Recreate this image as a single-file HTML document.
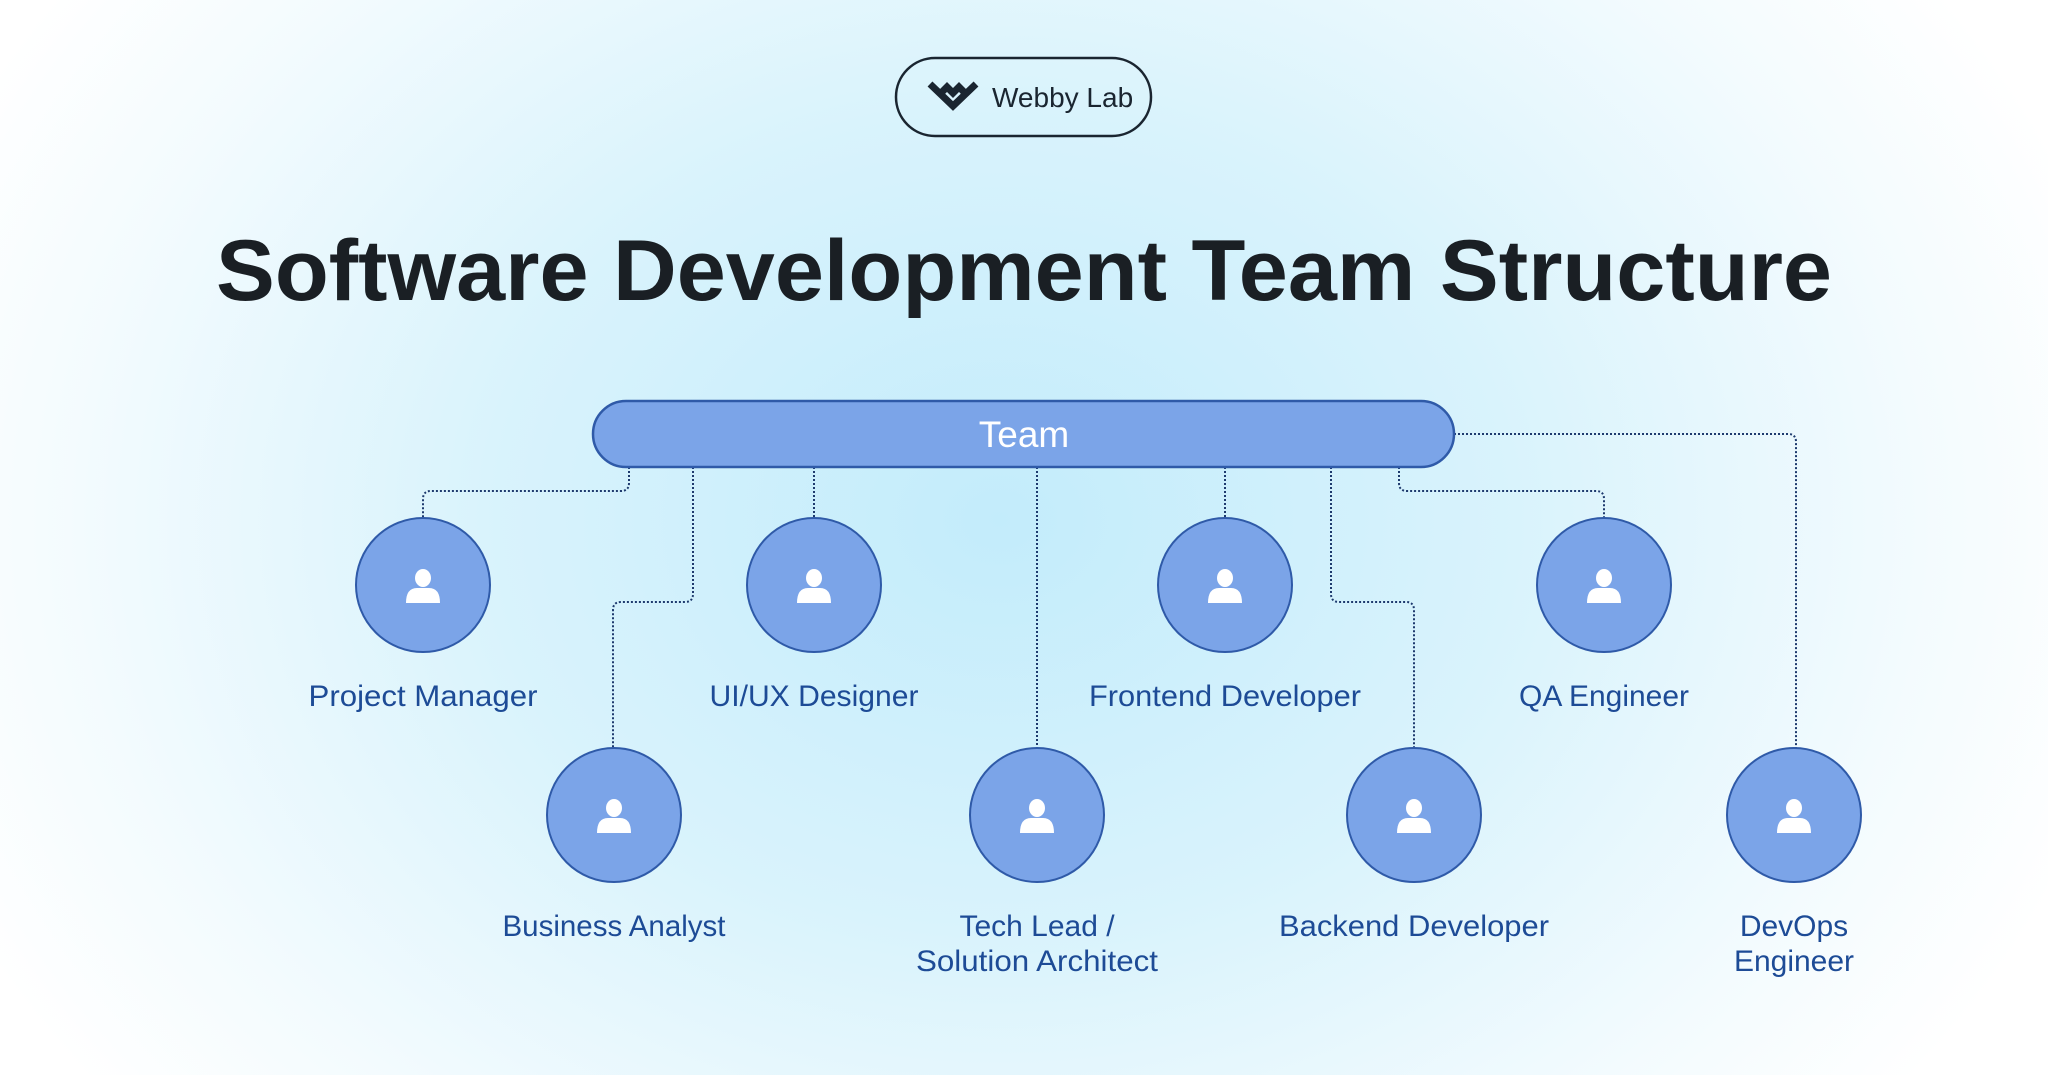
<!DOCTYPE html>
<html><head><meta charset="utf-8"><style>
html,body{margin:0;padding:0}
body{width:2048px;height:1075px;overflow:hidden;background:#fff}
svg{display:block}
</style></head><body>
<svg width="2048" height="1075" viewBox="0 0 2048 1075" xmlns="http://www.w3.org/2000/svg">
<defs>
<radialGradient id="bg" cx="1000" cy="520" r="1150" gradientUnits="userSpaceOnUse" gradientTransform="translate(1000 520) scale(1 0.8) translate(-1000 -520)">
<stop offset="0" stop-color="#c3ecfb"/>
<stop offset="0.45" stop-color="#d9f3fc"/>
<stop offset="0.8" stop-color="#f3fbfe"/>
<stop offset="1" stop-color="#ffffff"/>
</radialGradient>
<g id="p">
<circle r="67" fill="#7ba4e8" stroke="#2f5aa8" stroke-width="2"/>
<ellipse cx="0" cy="-7" rx="8" ry="9" fill="#fff"/>
<path d="M-17 18 Q-17 3 -6 3 L6 3 Q17 3 17 18 Z" fill="#fff"/>
</g>
</defs>
<rect width="2048" height="1075" fill="url(#bg)"/>

<rect x="896" y="58" width="255" height="78" rx="39" fill="none" stroke="#1a2530" stroke-width="2.5"/>
<g fill="none" stroke="#1a2530" stroke-width="7" stroke-linejoin="miter">
<polyline points="930,84 953,106 976,84"/>
<polyline points="941,93 947,87 953,93 959,87 965,93"/>
</g>
<text x="992" y="107" font-family="Liberation Sans, sans-serif" font-size="28" fill="#1a2530">Webby Lab</text>

<text x="1024" y="300" text-anchor="middle" font-family="Liberation Sans, sans-serif" font-weight="bold" font-size="86" fill="#1a1f24" textLength="1616" lengthAdjust="spacingAndGlyphs">Software Development Team Structure</text>

<g fill="none" stroke="#1e3a6e" stroke-width="2" stroke-dasharray="2 2">
<path d="M629 467 V483 Q629 491 621 491 H431 Q423 491 423 499 V518"/>
<path d="M693 467 V594 Q693 602 685 602 H621 Q613 602 613 610 V748"/>
<path d="M814 467 V518"/>
<path d="M1037 467 V748"/>
<path d="M1225 467 V518"/>
<path d="M1331 467 V594 Q1331 602 1339 602 H1406 Q1414 602 1414 610 V748"/>
<path d="M1399 467 V483 Q1399 491 1407 491 H1596 Q1604 491 1604 499 V518"/>
<path d="M1454 434 H1788 Q1796 434 1796 442 V748"/>
</g>

<rect x="593" y="401" width="861" height="66" rx="33" fill="#7ba4e8" stroke="#2f5aa8" stroke-width="2.5"/>
<text x="1024" y="447" text-anchor="middle" font-family="Liberation Sans, sans-serif" font-size="37" fill="#fff">Team</text>

<use href="#p" x="423" y="585"/>
<use href="#p" x="814" y="585"/>
<use href="#p" x="1225" y="585"/>
<use href="#p" x="1604" y="585"/>
<use href="#p" x="614" y="815"/>
<use href="#p" x="1037" y="815"/>
<use href="#p" x="1414" y="815"/>
<use href="#p" x="1794" y="815"/>

<g font-family="Liberation Sans, sans-serif" font-size="30" fill="#1d4b96" text-anchor="middle">
<text x="423" y="706" textLength="229" lengthAdjust="spacingAndGlyphs">Project Manager</text>
<text x="814" y="706" textLength="209" lengthAdjust="spacingAndGlyphs">UI/UX Designer</text>
<text x="1225" y="706" textLength="272" lengthAdjust="spacingAndGlyphs">Frontend Developer</text>
<text x="1604" y="706" textLength="170" lengthAdjust="spacingAndGlyphs">QA Engineer</text>
<text x="614" y="936" textLength="223" lengthAdjust="spacingAndGlyphs">Business Analyst</text>
<text x="1037" y="936">Tech Lead /</text>
<text x="1037" y="971" textLength="242" lengthAdjust="spacingAndGlyphs">Solution Architect</text>
<text x="1414" y="936" textLength="270" lengthAdjust="spacingAndGlyphs">Backend Developer</text>
<text x="1794" y="936">DevOps</text>
<text x="1794" y="971">Engineer</text>
</g>
</svg>
</body></html>
